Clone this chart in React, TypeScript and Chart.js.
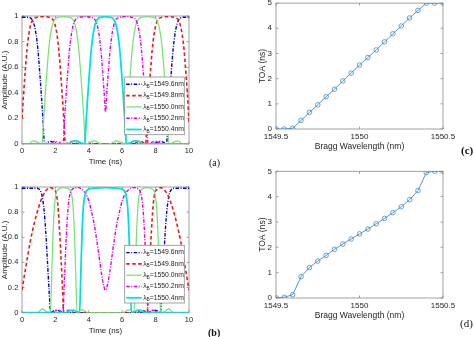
import React, { useEffect, useRef } from "react";
import { Chart, registerables } from "chart.js";
Chart.register(...registerables);

type Pair = [number, number];

// ---------- tick labels ----------
const TIME_TICKS = [0, 2, 4, 6, 8, 10];
const TIME_TICK_LABELS = ["0", "2", "4", "6", "8", "10"];
const AMP_TICKS = [0, 0.2, 0.4, 0.6, 0.8, 1];
const AMP_TICK_LABELS = ["0", "0.2", "0.4", "0.6", "0.8", "1"];
const WL_TICKS = [1549.5, 1550, 1550.5];
const WL_TICK_LABELS = ["1549.5", "1550", "1550.5"];
const TOA_TICKS = [0, 1, 2, 3, 4, 5];
const TOA_TICK_LABELS = ["0", "1", "2", "3", "4", "5"];
const LEGEND_WL = ["1549.6", "1549.8", "1550.0", "1550.2", "1550.4"];

// ---------- panel (a): [time ns, amplitude] ----------
const A_BLUE: Pair[] = [[0,0.99],[0.35,0.99],[0.55,0.98],[0.65,0.96],[0.75,0.92],[0.85,0.85],[0.95,0.74],[1.05,0.58],[1.15,0.4],[1.25,0.2],[1.35,0],[1.55,0.015],[1.75,0.02],[1.95,0.01],[2.15,0],[7.85,0],[8.05,0.01],[8.25,0.02],[8.45,0.015],[8.65,0],[8.75,0.2],[8.85,0.4],[8.95,0.58],[9.05,0.74],[9.15,0.85],[9.25,0.92],[9.35,0.96],[9.45,0.98],[9.65,0.99],[10,0.99]];
const A_RED: Pair[] = [[0,0.2],[0.1,0.4],[0.2,0.58],[0.3,0.74],[0.4,0.85],[0.5,0.92],[0.6,0.96],[0.7,0.98],[0.9,0.99],[1.3,0.995],[1.6,0.99],[1.8,0.98],[1.9,0.96],[2.0,0.92],[2.1,0.85],[2.2,0.74],[2.3,0.58],[2.4,0.4],[2.5,0.2],[2.6,0],[2.8,0.015],[3.0,0.02],[3.2,0.01],[3.35,0],[6.65,0],[6.8,0.01],[7.0,0.02],[7.2,0.015],[7.4,0],[7.5,0.2],[7.6,0.4],[7.7,0.58],[7.8,0.74],[7.9,0.85],[8.0,0.92],[8.1,0.96],[8.2,0.98],[8.4,0.99],[8.7,0.995],[9.1,0.99],[9.3,0.98],[9.4,0.96],[9.5,0.92],[9.6,0.85],[9.7,0.74],[9.8,0.58],[9.9,0.4],[10,0.17]];
const A_GREEN: Pair[] = [[0,0],[0.4,0],[0.65,0.025],[0.9,0.015],[1.2,0],[1.3,0.2],[1.4,0.4],[1.5,0.58],[1.6,0.74],[1.7,0.85],[1.8,0.92],[1.9,0.96],[2.0,0.98],[2.2,0.99],[2.5,0.995],[2.8,0.99],[3.0,0.98],[3.1,0.96],[3.2,0.92],[3.3,0.85],[3.4,0.74],[3.5,0.58],[3.6,0.4],[3.7,0.2],[3.8,0],[4.05,0.01],[4.35,0.025],[4.6,0.01],[4.8,0],[5.2,0],[5.4,0.01],[5.65,0.025],[5.95,0.01],[6.2,0],[6.3,0.2],[6.4,0.4],[6.5,0.58],[6.6,0.74],[6.7,0.85],[6.8,0.92],[6.9,0.96],[7.0,0.98],[7.2,0.99],[7.5,0.995],[7.8,0.99],[8.0,0.98],[8.1,0.96],[8.2,0.92],[8.3,0.85],[8.4,0.74],[8.5,0.58],[8.6,0.4],[8.7,0.2],[8.8,0],[9.1,0.015],[9.35,0.025],[9.6,0],[10,0]];
const A_MAGENTA: Pair[] = [[0,0],[1.65,0],[1.9,0.02],[2.2,0.015],[2.45,0],[2.55,0.2],[2.65,0.4],[2.75,0.58],[2.85,0.74],[2.95,0.85],[3.05,0.92],[3.15,0.96],[3.25,0.98],[3.45,0.99],[3.78,0.995],[4.12,0.99],[4.32,0.98],[4.42,0.96],[4.52,0.92],[4.62,0.85],[4.72,0.74],[4.82,0.58],[4.92,0.4],[5.0,0.25],[5.08,0.4],[5.18,0.58],[5.28,0.74],[5.38,0.85],[5.48,0.92],[5.58,0.96],[5.68,0.98],[5.88,0.99],[6.22,0.995],[6.55,0.99],[6.75,0.98],[6.85,0.96],[6.95,0.92],[7.05,0.85],[7.15,0.74],[7.25,0.58],[7.35,0.4],[7.45,0.2],[7.55,0],[7.8,0.015],[8.1,0.02],[8.35,0],[10,0]];
const A_CYAN: Pair[] = [[0,0],[2.75,0],[3.0,0.02],[3.25,0.025],[3.5,0.01],[3.75,0],[3.85,0.2],[3.95,0.4],[4.05,0.58],[4.15,0.74],[4.25,0.85],[4.35,0.92],[4.45,0.96],[4.55,0.98],[4.75,0.99],[5.0,0.995],[5.25,0.99],[5.45,0.98],[5.55,0.96],[5.65,0.92],[5.75,0.85],[5.85,0.74],[5.95,0.58],[6.05,0.4],[6.15,0.2],[6.25,0],[6.5,0.01],[6.75,0.025],[7.0,0.02],[7.25,0],[10,0]];

// ---------- panel (b): [time ns, amplitude] ----------
const B_BLUE: Pair[] = [[0,0.99],[0.9,0.99],[1.05,0.98],[1.2,0.93],[1.32,0.82],[1.42,0.65],[1.52,0.42],[1.62,0.18],[1.72,0],[1.9,0.015],[2.1,0.02],[2.3,0.01],[2.45,0],[7.55,0],[7.7,0.01],[7.9,0.02],[8.1,0.015],[8.28,0],[8.38,0.18],[8.48,0.42],[8.58,0.65],[8.68,0.82],[8.8,0.93],[8.95,0.98],[9.1,0.99],[10,0.99]];
const B_RED: Pair[] = [[0,0.18],[0.25,0.38],[0.5,0.57],[0.75,0.72],[1.0,0.84],[1.25,0.93],[1.5,0.98],[1.7,0.995],[1.9,0.98],[2.05,0.95],[2.15,0.85],[2.25,0.65],[2.35,0.4],[2.43,0.18],[2.5,0],[2.7,0.015],[2.9,0.02],[3.1,0],[6.9,0],[7.1,0.02],[7.3,0.015],[7.5,0],[7.57,0.18],[7.65,0.4],[7.75,0.65],[7.85,0.85],[7.95,0.95],[8.1,0.98],[8.3,0.995],[8.5,0.98],[8.75,0.93],[9.0,0.84],[9.25,0.72],[9.5,0.57],[9.75,0.38],[10,0.18]];
const B_GREEN: Pair[] = [[0,0],[0.95,0],[1.2,0.03],[1.45,0.01],[1.7,0],[1.78,0.3],[1.85,0.6],[1.93,0.82],[2.0,0.92],[2.15,0.98],[2.5,0.995],[2.85,0.98],[3.0,0.92],[3.07,0.82],[3.15,0.6],[3.22,0.3],[3.3,0],[3.55,0.025],[3.8,0.01],[4.0,0],[6.0,0],[6.2,0.01],[6.45,0.025],[6.7,0],[6.78,0.3],[6.85,0.6],[6.93,0.82],[7.0,0.92],[7.15,0.98],[7.5,0.995],[7.85,0.98],[8.0,0.92],[8.07,0.82],[8.15,0.6],[8.22,0.3],[8.3,0],[8.55,0.01],[8.8,0.03],[9.05,0],[10,0]];
const B_MAGENTA: Pair[] = [[0,0],[1.9,0],[2.05,0.015],[2.2,0.02],[2.33,0.01],[2.45,0],[2.55,0.3],[2.65,0.6],[2.75,0.82],[2.85,0.93],[3.0,0.98],[3.37,0.995],[3.6,0.98],[3.8,0.95],[4.0,0.89],[4.15,0.81],[4.3,0.72],[4.45,0.6],[4.6,0.46],[4.75,0.32],[4.9,0.21],[5.0,0.18],[5.1,0.21],[5.25,0.32],[5.4,0.46],[5.55,0.6],[5.7,0.72],[5.85,0.81],[6.0,0.89],[6.2,0.95],[6.4,0.98],[6.63,0.995],[7.0,0.98],[7.15,0.93],[7.25,0.82],[7.35,0.6],[7.45,0.3],[7.55,0],[7.67,0.01],[7.8,0.02],[7.95,0.015],[8.1,0],[10,0]];
const B_CYAN: Pair[] = [[0,0],[2.65,0],[2.85,0.015],[3.05,0.02],[3.25,0.01],[3.45,0],[3.52,0.3],[3.6,0.65],[3.68,0.85],[3.78,0.94],[3.95,0.98],[4.3,0.99],[5.0,0.995],[5.7,0.99],[6.05,0.98],[6.22,0.94],[6.32,0.85],[6.4,0.65],[6.48,0.3],[6.55,0],[6.75,0.01],[6.95,0.02],[7.15,0.015],[7.35,0],[10,0]];

// ---------- panels (c), (d): TOA vs Bragg wavelength ----------
const BRAGG_WL = [1549.5,1549.55,1549.6,1549.65,1549.7,1549.75,1549.8,1549.85,1549.9,1549.95,1550,1550.05,1550.1,1550.15,1550.2,1550.25,1550.3,1550.35,1550.4,1550.45,1550.5];
const TOA_C = [0,0,0.03,0.34,0.66,0.96,1.28,1.58,1.91,2.22,2.54,2.84,3.14,3.46,3.78,4.09,4.41,4.71,5,5,5];
const TOA_D = [0.01,0.03,0.13,0.84,1.2,1.46,1.68,1.92,2.13,2.33,2.53,2.72,2.93,3.14,3.37,3.6,3.88,4.24,4.95,5,5];

// ---------- styles ----------
const FONT = '"Liberation Sans", Arial, Helvetica, sans-serif';
const TEXT = "#262626";
const AXIS = "#8a8a8a";
const STYLES = [
  { color: "rgb(0,0,205)", width: 1.4, dash: [3.5, 1.5, 1, 1.5] },
  { color: "rgb(225,30,30)", width: 1.6, dash: [3.5, 2.5] },
  { color: "rgb(115,225,115)", width: 1.2, dash: [] as number[] },
  { color: "rgb(225,0,225)", width: 1.4, dash: [3.5, 1.5, 1, 1.5] },
  { color: "rgb(0,225,225)", width: 1.8, dash: [] as number[] },
];
const TOA_COLOR = "rgb(70,140,200)";

const boxPlugin = {
  id: "mbox",
  beforeDatasetsDraw(chart: any) {
    const { ctx, chartArea: a, scales } = chart;
    const L = 2.5;
    ctx.save();
    ctx.strokeStyle = AXIS;
    ctx.lineWidth = 0.8;
    ctx.strokeRect(a.left, a.top, a.right - a.left, a.bottom - a.top);
    ctx.beginPath();
    for (const t of scales.x.ticks) {
      const px = scales.x.getPixelForValue(t.value);
      ctx.moveTo(px, a.bottom); ctx.lineTo(px, a.bottom - L);
      ctx.moveTo(px, a.top); ctx.lineTo(px, a.top + L);
    }
    for (const t of scales.y.ticks) {
      const py = scales.y.getPixelForValue(t.value);
      ctx.moveTo(a.left, py); ctx.lineTo(a.left + L, py);
      ctx.moveTo(a.right, py); ctx.lineTo(a.right - L, py);
    }
    ctx.stroke();
    ctx.restore();
  },
};

const legendPlugin = {
  id: "mlegend",
  afterDraw(chart: any, _args: any, opts: any) {
    if (!opts || !opts.show) return;
    const { ctx, chartArea: a } = chart;
    const w = 59.6, h = 57.7;
    const x0 = a.right - 4.7 - w;
    const y0 = a.bottom - opts.bottomGap - h;
    ctx.save();
    ctx.fillStyle = "#fff";
    ctx.fillRect(x0, y0, w, h);
    ctx.strokeStyle = "#8c8c8c";
    ctx.lineWidth = 0.8;
    ctx.strokeRect(x0, y0, w, h);
    chart.data.datasets.forEach((ds: any, i: number) => {
      const y = y0 + 7.3 + i * 11.3;
      ctx.beginPath();
      ctx.setLineDash(ds.borderDash || []);
      ctx.strokeStyle = ds.borderColor;
      ctx.lineWidth = ds.borderWidth;
      ctx.moveTo(x0 + 1.5, y);
      ctx.lineTo(x0 + 17, y);
      ctx.stroke();
      ctx.setLineDash([]);
      ctx.fillStyle = TEXT;
      ctx.textAlign = "left";
      ctx.textBaseline = "middle";
      let x = x0 + 18.5;
      ctx.font = `6.8px ${FONT}`;
      ctx.fillText("λ", x, y);
      x += ctx.measureText("λ").width;
      ctx.font = `4.8px ${FONT}`;
      ctx.fillText("B", x, y + 2);
      x += ctx.measureText("B").width;
      ctx.font = `6.8px ${FONT}`;
      ctx.fillText("=" + LEGEND_WL[i] + "nm", x, y);
    });
    ctx.restore();
  },
};

function fixAxis(size: number, horizontal: boolean) {
  return (s: any) => {
    if (horizontal) s.height = size;
    else s.width = size;
    s.paddingTop = 0; s.paddingBottom = 0; s.paddingLeft = 0; s.paddingRight = 0;
  };
}

function setTicks(values: number[]) {
  return (s: any) => { s.ticks = values.map((v) => ({ value: v })); };
}

function axis(o: any) {
  return {
    type: "linear",
    min: o.min, max: o.max,
    afterBuildTicks: setTicks(o.ticks),
    afterFit: fixAxis(o.size, o.horizontal),
    grid: { display: false, drawTicks: false },
    border: { display: false },
    ticks: {
      autoSkip: false, maxRotation: 0, minRotation: 0,
      padding: o.tickPad, color: TEXT,
      font: { family: FONT, size: o.tickSize },
      callback: (_v: any, i: number) => o.labels[i],
    },
    title: {
      display: true, text: o.title, color: TEXT,
      font: { family: FONT, size: o.titleSize },
      padding: o.titlePad,
    },
  };
}

function timeConfig(series: Pair[][], padTop: number, xAxisH: number, titlePadBottom: number, legendBottom: number) {
  return {
    type: "line",
    data: {
      datasets: series.map((pairs, i) => ({
        label: `λB=${LEGEND_WL[i]}nm`,
        data: pairs.map(([x, y]) => ({ x, y })),
        borderColor: STYLES[i].color,
        borderWidth: STYLES[i].width,
        borderDash: STYLES[i].dash,
        pointRadius: 0,
        pointHoverRadius: 0,
        fill: false,
        cubicInterpolationMode: "monotone",
        order: 4 - i,
      })),
    },
    options: {
      animation: false, responsive: false, devicePixelRatio: 1, events: [],
      layout: { padding: { top: padTop, right: 16, left: 0, bottom: 0 } },
      plugins: { legend: { display: false }, tooltip: { enabled: false }, mlegend: { show: true, bottomGap: legendBottom } },
      scales: {
        x: axis({ min: 0, max: 10, ticks: TIME_TICKS, labels: TIME_TICK_LABELS, size: xAxisH, horizontal: true, tickPad: 2.5, tickSize: 7.5, title: "Time (ns)", titleSize: 8, titlePad: { top: 0, bottom: titlePadBottom } }),
        y: axis({ min: 0, max: 1, ticks: AMP_TICKS, labels: AMP_TICK_LABELS, size: 22, horizontal: false, tickPad: 3.7, tickSize: 7.5, title: "Amplitude (A.U.)", titleSize: 8, titlePad: { top: 0, bottom: 0 } }),
      },
    },
    plugins: [boxPlugin, legendPlugin],
  };
}

function toaConfig(values: number[], padTop: number) {
  return {
    type: "line",
    data: {
      datasets: [{
        label: "TOA",
        data: BRAGG_WL.map((x, i) => ({ x, y: values[i] })),
        borderColor: TOA_COLOR,
        borderWidth: 0.9,
        pointRadius: 2.3,
        pointBorderWidth: 0.8,
        pointBorderColor: TOA_COLOR,
        pointBackgroundColor: "rgba(0,0,0,0)",
        pointHoverRadius: 2.3,
        fill: false,
        tension: 0,
      }],
    },
    options: {
      animation: false, responsive: false, devicePixelRatio: 1, events: [],
      layout: { padding: { top: padTop, right: 31, left: 0, bottom: 0 } },
      plugins: { legend: { display: false }, tooltip: { enabled: false } },
      scales: {
        x: axis({ min: 1549.5, max: 1550.5, ticks: WL_TICKS, labels: WL_TICK_LABELS, size: 39, horizontal: true, tickPad: 2.7, tickSize: 8, title: "Bragg Wavelength (nm)", titleSize: 8.5, titlePad: { top: 0, bottom: 16.2 } }),
        y: axis({ min: 0, max: 5, ticks: TOA_TICKS, labels: TOA_TICK_LABELS, size: 39, horizontal: false, tickPad: 4, tickSize: 8, title: "TOA (ns)", titleSize: 8.5, titlePad: { top: 20.9, bottom: 0 } }),
      },
    },
    plugins: [boxPlugin],
  };
}

function Panel(props: { left: number; top: number; width: number; height: number; make: () => any }) {
  const ref = useRef<HTMLCanvasElement>(null);
  useEffect(() => {
    const chart = new Chart(ref.current as HTMLCanvasElement, props.make());
    return () => chart.destroy();
  }, []);
  return (
    <canvas
      ref={ref}
      width={props.width}
      height={props.height}
      style={{ position: "absolute", left: props.left, top: props.top, width: props.width, height: props.height, display: "block" }}
    />
  );
}

function Tag(props: { text: string; left: number; top: number; size: number; bold: boolean }) {
  return (
    <div
      style={{
        position: "absolute", left: props.left, top: props.top,
        fontFamily: '"Liberation Serif", "Times New Roman", serif',
        fontSize: props.size, lineHeight: `${props.size}px`, fontWeight: props.bold ? 700 : 400,
        color: "#111", whiteSpace: "nowrap",
      }}
    >
      {props.text}
    </div>
  );
}

export default function App() {
  return (
    <div style={{ position: "fixed", left: 0, top: 0, width: 474, height: 337, overflow: "hidden", background: "#fff" }}>
      <Panel left={0} top={0} width={205} height={170} make={() => timeConfig([A_BLUE, A_RED, A_GREEN, A_MAGENTA, A_CYAN], 16, 26, 3.2, 9.3)} />
      <Panel left={0} top={168} width={205} height={169} make={() => timeConfig([B_BLUE, B_RED, B_GREEN, B_MAGENTA, B_CYAN], 19, 24.3, 1.5, 9.7)} />
      <Panel left={237} top={0} width={237} height={168} make={() => toaConfig(TOA_C, 2.7)} />
      <Panel left={237} top={168} width={237} height={169} make={() => toaConfig(TOA_D, 3.3)} />
      <Tag text="(a)" left={209} top={158} size={10} bold={false} />
      <Tag text="(b)" left={208} top={327.5} size={10} bold={true} />
      <Tag text="(c)" left={461} top={144.5} size={11} bold={true} />
      <Tag text="(d)" left={460} top={318} size={11} bold={false} />
    </div>
  );
}
